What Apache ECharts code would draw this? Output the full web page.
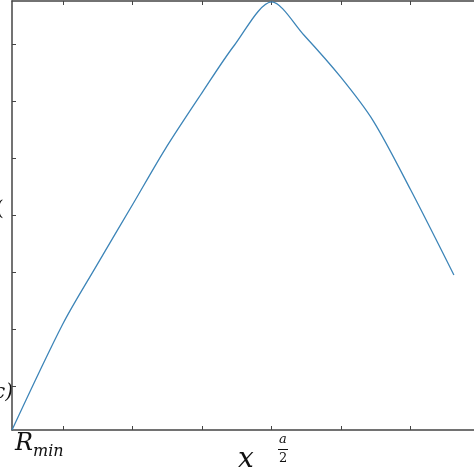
<!DOCTYPE html><html><head><meta charset="utf-8"><script src="https://cdn.jsdelivr.net/npm/echarts@6/dist/echarts.min.js"></script></head><body style="margin:0"><div id="c" style="width:474px;height:474px"></div><script>
const xs=[0,0.731,1.2,1.738,2.2,2.731,3.2,3.738,4.2,4.731,5.2,5.738,6.359];
const ys=[0,1.86,2.85,3.96,4.92,5.91,6.75,7.51,6.93,6.19,5.42,4.21,2.72];
const xTicks=[0.731,1.731,2.731,3.731,4.731,5.731];
const yTicks=[0.772,1.772,2.772,3.772,4.772,5.772,6.772];
const W=72.5,H=57;
const xMax=(474+20-12)/W, yMax=429/H;
const ax={lineStyle:{color:'#444',width:1.5}};
const tk={show:true,inside:true,length:4,lineStyle:{color:'#444'}};
const font='"DejaVu Serif",serif';
const c=echarts.init(document.getElementById('c'));
c.setOption({animation:false,
grid:{left:12,right:-20,top:1,bottom:44},
xAxis:[{type:'value',min:0,max:xMax,axisLine:ax,axisTick:Object.assign({customValues:xTicks},tk),axisLabel:{show:false},splitLine:{show:false}},
{type:'value',position:'top',min:0,max:xMax,axisLine:ax,axisTick:Object.assign({customValues:xTicks},tk),axisLabel:{show:false},splitLine:{show:false}}],
yAxis:{type:'value',min:0,max:yMax,axisLine:Object.assign({show:true},ax),axisTick:Object.assign({customValues:yTicks},tk),axisLabel:{show:false},splitLine:{show:false}},
series:[{type:'line',data:xs.map((x,i)=>[x,ys[i]]),smooth:0.3,showSymbol:false,lineStyle:{color:'#3d85b8',width:1.3}}],
graphic:[
{type:'text',left:15,top:432,style:{text:'R',font:'italic 24px '+font,fill:'#111'}},
{type:'text',left:33,top:444,style:{text:'min',font:'italic 16px '+font,fill:'#111'}},
{type:'text',left:238,top:446,style:{text:'x',font:'italic 28px '+font,fill:'#111'}},
{type:'text',left:279,top:433,style:{text:'a',font:'italic 13px '+font,fill:'#111'}},
{type:'rect',shape:{x:278,y:449,width:10,height:1},style:{fill:'#111'}},
{type:'text',left:279,top:452,style:{text:'2',font:'13px '+font,fill:'#111'}},
{type:'text',left:-6,top:383,style:{text:'c)',font:'italic 20px '+font,fill:'#111'}},
{type:'text',left:-4,top:200,style:{text:'(',font:'20px '+font,fill:'#111'}}
]});
</script></body></html>
